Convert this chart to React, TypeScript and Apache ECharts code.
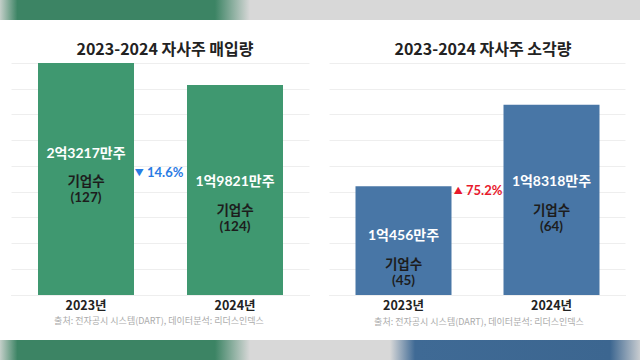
import React, { useEffect, useRef } from "react";
import * as echarts from "echarts";

const years = ["2023년", "2024년"];
const buyShares = [23217, 19821]; // 만주
const buyLabels = ["2억3217만주", "1억9821만주"];
const buyCompanies = [127, 124];
const burnShares = [10456, 18318]; // 만주
const burnLabels = ["1억456만주", "1억8318만주"];
const burnCompanies = [45, 64];
const titles = ["2023-2024 자사주 매입량", "2023-2024 자사주 소각량"];
const sourceText = "출처: 전자공시 시스템(DART), 데이터분석: 리더스인덱스";

const FONT = "Lato, 'Noto Sans CJK KR', 'Noto Sans', sans-serif";
const KFONT = "'Noto Sans CJK KR', 'Noto Sans', sans-serif";

function pct(a: number, b: number) {
  return (Math.abs(b - a) / a * 100).toFixed(1) + "%";
}

const rich = {
  a: { color: "#ffffff", fontSize: 14, fontWeight: "bold", fontFamily: FONT, lineHeight: 34 },
  b: { color: "#1d1d1d", fontSize: 13.5, fontWeight: "bold", fontFamily: KFONT, lineHeight: 22 },
  c: { color: "#1d1d1d", fontSize: 13.5, fontWeight: "bold", fontFamily: FONT, lineHeight: 12 },
};

export default function App() {
  const ref = useRef<HTMLDivElement>(null);
  useEffect(() => {
    if (!ref.current) return;
    const chart = echarts.init(ref.current, null, { renderer: "svg" });
    const gridTop = 63;
    const gridH = 232;
    const gridAxis = (gi: number) => ({
      type: "value",
      gridIndex: gi,
      min: 0,
      max: 9,
      interval: 1,
      axisLabel: { show: false },
      axisLine: { show: false },
      axisTick: { show: false },
      splitLine: { show: true, lineStyle: { color: "#eeeeee", width: 1 } },
    });
    const barAxis = (gi: number, min: number, max: number) => ({
      type: "value",
      gridIndex: gi,
      min,
      max,
      startValue: min,
      show: false,
      splitLine: { show: false },
    });
    const xAx = (gi: number) => ({
      type: "category",
      gridIndex: gi,
      data: years,
      axisLine: { show: true, lineStyle: { color: "#eeeeee" } },
      axisTick: { show: false },
      axisLabel: {
        color: "#222222",
        fontSize: 12.5,
        fontWeight: "bold",
        fontFamily: KFONT,
        margin: 3,
      },
    });
    const fmt = (labels: string[], comps: number[]) => (p: any) =>
      `{a|${labels[p.dataIndex]}}\n{b|기업수}\n{c|(${comps[p.dataIndex]})}`;

    const buyOffsets = [-10, 8];
    const burnOffsets = [11, -2];

    const titleStyle = { fontSize: 16, fontWeight: "bold", color: "#222222", fontFamily: KFONT };

    chart.setOption({
      animation: false,
      backgroundColor: "#ffffff",
      title: [
        { text: titles[0], left: 160, top: 35, textAlign: "center", textStyle: titleStyle },
        { text: titles[1], left: 478, top: 35, textAlign: "center", textStyle: titleStyle },
      ],
      grid: [
        { left: 11.5, width: 298, top: gridTop, height: gridH },
        { left: 329.5, width: 296, top: gridTop, height: gridH },
      ],
      xAxis: [xAx(0), xAx(1)],
      yAxis: [
        gridAxis(0),
        barAxis(0, -12596, 23217),
        gridAxis(1),
        barAxis(1, 0, 22325),
      ],
      series: [
        {
          type: "bar",
          xAxisIndex: 0,
          yAxisIndex: 1,
          barWidth: 96,
          itemStyle: { color: "#3f9870" },
          data: buyShares.map((v, i) => ({
            value: v,
            label: { offset: [0, buyOffsets[i]] },
          })),
          label: {
            show: true,
            position: "inside",
            formatter: fmt(buyLabels, buyCompanies),
            rich,
          },
        },
        {
          type: "bar",
          xAxisIndex: 1,
          yAxisIndex: 3,
          barWidth: 96,
          itemStyle: { color: "#4876a6" },
          data: burnShares.map((v, i) => ({
            value: v,
            label: { offset: [0, burnOffsets[i]] },
          })),
          label: {
            show: true,
            position: "inside",
            formatter: fmt(burnLabels, burnCompanies),
            rich,
          },
        },
      ],
      graphic: [
        // top strip
        { type: "rect", shape: { x: 0, y: 0, width: 640, height: 20 }, style: { fill: "#d8d8d8" }, z: 0 },
        {
          type: "rect",
          shape: { x: 0, y: 0, width: 250, height: 20 },
          style: {
            fill: new echarts.graphic.LinearGradient(0, 0, 1, 0, [
              { offset: 0, color: "#c4cfc9" },
              { offset: 0.07, color: "#3c8464" },
              { offset: 0.86, color: "#3c8464" },
              { offset: 1, color: "#d8d8d8" },
            ]),
          },
          z: 1,
        },
        // bottom strip
        { type: "rect", shape: { x: 0, y: 340, width: 640, height: 20 }, style: { fill: "#d8d8d8" }, z: 0 },
        {
          type: "rect",
          shape: { x: 0, y: 340, width: 250, height: 20 },
          style: {
            fill: new echarts.graphic.LinearGradient(0, 0, 1, 0, [
              { offset: 0, color: "#c4cfc9" },
              { offset: 0.07, color: "#3c8464" },
              { offset: 0.86, color: "#3c8464" },
              { offset: 1, color: "#d8d8d8" },
            ]),
          },
          z: 1,
        },
        {
          type: "rect",
          shape: { x: 390, y: 340, width: 250, height: 20 },
          style: {
            fill: new echarts.graphic.LinearGradient(0, 0, 1, 0, [
              { offset: 0, color: "#d8d8d8" },
              { offset: 0.1, color: "#3f6a95" },
              { offset: 0.88, color: "#3c6690" },
              { offset: 1, color: "#c8ccd0" },
            ]),
          },
          z: 1,
        },
        // change labels
        {
          type: "text",
          x: 159,
          y: 172,
          style: {
            text: `{t|▼} {p|${pct(buyShares[0], buyShares[1])}}`,
            align: "center",
            verticalAlign: "middle",
            rich: {
              t: { fontSize: 9, fill: "#2a7be4", fontFamily: KFONT },
              p: { fontSize: 13, fontWeight: "bold", fill: "#2a7be4", fontFamily: FONT },
            },
          },
          z: 10,
        },
        {
          type: "text",
          x: 478,
          y: 190,
          style: {
            text: `{t|▲} {p|${pct(burnShares[0], burnShares[1])}}`,
            align: "center",
            verticalAlign: "middle",
            rich: {
              t: { fontSize: 9, fill: "#e8192c", fontFamily: KFONT },
              p: { fontSize: 13, fontWeight: "bold", fill: "#e8192c", fontFamily: FONT },
            },
          },
          z: 10,
        },
        // sources
        {
          type: "text",
          x: 159,
          y: 320,
          style: {
            text: sourceText,
            align: "center",
            verticalAlign: "middle",
            fontSize: 9,
            fill: "#ababab",
            fontFamily: KFONT,
          },
        },
        {
          type: "text",
          x: 479,
          y: 321,
          style: {
            text: sourceText,
            align: "center",
            verticalAlign: "middle",
            fontSize: 9,
            fill: "#ababab",
            fontFamily: KFONT,
          },
        },
      ],
    });
    return () => chart.dispose();
  }, []);
  return (
    <div
      ref={ref}
      style={{ position: "absolute", left: 0, top: 0, width: 640, height: 360 }}
    />
  );
}
